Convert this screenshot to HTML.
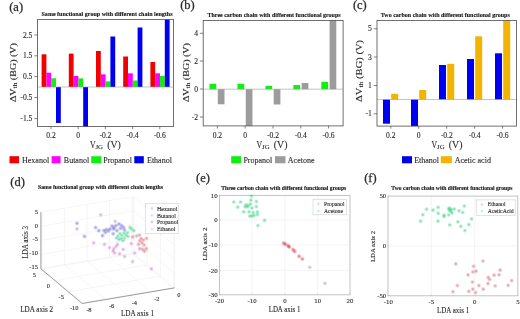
<!DOCTYPE html>
<html><head><meta charset="utf-8"><title>Figure</title>
<style>html,body{margin:0;padding:0;background:#fff;overflow:hidden;}svg{display:block;filter:blur(0.4px);}text{stroke:#2a2a2a;stroke-width:0.12px;}.pl{stroke-width:0.25px;}</style></head>
<body><svg width="520" height="319" viewBox="0 0 520 319" font-family="'Liberation Serif','Times New Roman',serif">
<rect width="520" height="319" fill="#fff"/>
<text x="9.20" y="10.90" font-size="12.5" text-anchor="start" fill="#2a2a2a" class="pl">(a)</text>
<text x="41.50" y="15.60" font-size="6" text-anchor="start" font-weight="bold" textLength="131.0" lengthAdjust="spacingAndGlyphs" fill="#111">Same functional group with different chain lengths</text>
<rect x="41.60" y="54.30" width="4.80" height="32.70" fill="#f20000"/>
<rect x="46.40" y="72.70" width="4.80" height="14.30" fill="#ff00ff"/>
<rect x="51.20" y="78.30" width="4.80" height="8.70" fill="#10f010"/>
<rect x="56.00" y="87.00" width="4.80" height="36.00" fill="#0000f0"/>
<rect x="68.80" y="53.60" width="4.80" height="33.40" fill="#f20000"/>
<rect x="73.60" y="76.00" width="4.80" height="11.00" fill="#ff00ff"/>
<rect x="78.40" y="78.40" width="4.80" height="8.60" fill="#10f010"/>
<rect x="83.20" y="87.00" width="4.80" height="39.60" fill="#0000f0"/>
<rect x="96.00" y="51.00" width="4.80" height="36.00" fill="#f20000"/>
<rect x="100.80" y="74.30" width="4.80" height="12.70" fill="#ff00ff"/>
<rect x="105.60" y="81.30" width="4.80" height="5.70" fill="#10f010"/>
<rect x="110.40" y="36.50" width="4.80" height="50.50" fill="#0000f0"/>
<rect x="123.20" y="56.50" width="4.80" height="30.50" fill="#f20000"/>
<rect x="128.00" y="73.30" width="4.80" height="13.70" fill="#ff00ff"/>
<rect x="132.80" y="80.50" width="4.80" height="6.50" fill="#10f010"/>
<rect x="137.60" y="27.50" width="4.80" height="59.50" fill="#0000f0"/>
<rect x="150.40" y="62.00" width="4.80" height="25.00" fill="#f20000"/>
<rect x="155.20" y="73.30" width="4.80" height="13.70" fill="#ff00ff"/>
<rect x="160.00" y="75.80" width="4.80" height="11.20" fill="#10f010"/>
<rect x="164.80" y="19.60" width="4.80" height="67.40" fill="#0000f0"/>
<line x1="37.60" y1="87.00" x2="173.40" y2="87.00" stroke="#9a9a9a" stroke-width="0.6"/>
<rect x="37.60" y="19.40" width="135.80" height="107.20" fill="none" stroke="#4d4d4d" stroke-width="0.8"/>
<line x1="34.30" y1="35.00" x2="37.60" y2="35.00" stroke="#4d4d4d" stroke-width="0.7"/>
<text x="32.40" y="37.60" font-size="7.6" text-anchor="end" fill="#2a2a2a">2.5</text>
<line x1="34.30" y1="55.80" x2="37.60" y2="55.80" stroke="#4d4d4d" stroke-width="0.7"/>
<text x="32.40" y="58.40" font-size="7.6" text-anchor="end" fill="#2a2a2a">1.5</text>
<line x1="34.30" y1="76.60" x2="37.60" y2="76.60" stroke="#4d4d4d" stroke-width="0.7"/>
<text x="32.40" y="79.20" font-size="7.6" text-anchor="end" fill="#2a2a2a">0.5</text>
<line x1="34.30" y1="97.50" x2="37.60" y2="97.50" stroke="#4d4d4d" stroke-width="0.7"/>
<text x="32.40" y="100.10" font-size="7.6" text-anchor="end" fill="#2a2a2a">-0.5</text>
<line x1="34.30" y1="118.60" x2="37.60" y2="118.60" stroke="#4d4d4d" stroke-width="0.7"/>
<text x="32.40" y="121.20" font-size="7.6" text-anchor="end" fill="#2a2a2a">-1.5</text>
<line x1="51.00" y1="126.60" x2="51.00" y2="129.20" stroke="#4d4d4d" stroke-width="0.7"/>
<text x="51.00" y="137.90" font-size="7.6" text-anchor="middle" fill="#2a2a2a">0.2</text>
<line x1="78.20" y1="126.60" x2="78.20" y2="129.20" stroke="#4d4d4d" stroke-width="0.7"/>
<text x="78.20" y="137.90" font-size="7.6" text-anchor="middle" fill="#2a2a2a">0</text>
<line x1="105.40" y1="126.60" x2="105.40" y2="129.20" stroke="#4d4d4d" stroke-width="0.7"/>
<text x="105.40" y="137.90" font-size="7.6" text-anchor="middle" fill="#2a2a2a">-0.2</text>
<line x1="132.60" y1="126.60" x2="132.60" y2="129.20" stroke="#4d4d4d" stroke-width="0.7"/>
<text x="132.60" y="137.90" font-size="7.6" text-anchor="middle" fill="#2a2a2a">-0.4</text>
<line x1="159.80" y1="126.60" x2="159.80" y2="129.20" stroke="#4d4d4d" stroke-width="0.7"/>
<text x="159.80" y="137.90" font-size="7.6" text-anchor="middle" fill="#2a2a2a">-0.6</text>
<text x="90.00" y="148.1" font-size="9.6" fill="#2a2a2a" textLength="5.6" lengthAdjust="spacingAndGlyphs">V</text>
<text x="95.40" y="149.3" font-size="6.2" fill="#2a2a2a" textLength="7.6" lengthAdjust="spacingAndGlyphs">JG</text>
<text x="107.20" y="148.1" font-size="9.6" fill="#2a2a2a" textLength="13.6" lengthAdjust="spacingAndGlyphs">(V)</text>
<text transform="translate(16.00,72.60) rotate(-90)" x="0" y="0" font-size="8.4" text-anchor="middle" fill="#2a2a2a" textLength="59" lengthAdjust="spacingAndGlyphs">ΔV<tspan font-size="6.2" dy="1.3">th</tspan><tspan dy="-1.3"> (BG) (V)</tspan></text>
<rect x="9.50" y="156.20" width="9.50" height="7.10" fill="#f20000"/>
<text x="22.00" y="162.70" font-size="8" text-anchor="start" fill="#2a2a2a">Hexanol</text>
<rect x="51.60" y="156.20" width="9.00" height="7.10" fill="#ff00ff"/>
<text x="63.80" y="162.70" font-size="8" text-anchor="start" fill="#2a2a2a">Butanol</text>
<rect x="91.20" y="156.20" width="10.00" height="7.10" fill="#10f010"/>
<text x="103.20" y="162.70" font-size="8" text-anchor="start" fill="#2a2a2a">Propanol</text>
<rect x="134.30" y="156.20" width="9.50" height="7.10" fill="#0000f0"/>
<text x="147.00" y="162.70" font-size="8" text-anchor="start" fill="#2a2a2a">Ethanol</text>
<text x="180.20" y="8.80" font-size="12.5" text-anchor="start" fill="#2a2a2a" class="pl">(b)</text>
<text x="207.50" y="17.00" font-size="6" text-anchor="start" font-weight="bold" textLength="133.10000000000002" lengthAdjust="spacingAndGlyphs" fill="#111">Three carbon chain with different functional groups</text>
<rect x="209.50" y="83.80" width="6.80" height="5.40" fill="#10f010"/>
<rect x="217.80" y="89.20" width="6.70" height="15.10" fill="#9c9c9c"/>
<rect x="237.45" y="83.80" width="6.80" height="5.40" fill="#10f010"/>
<rect x="245.75" y="89.20" width="6.70" height="36.70" fill="#9c9c9c"/>
<rect x="265.40" y="85.80" width="6.80" height="3.40" fill="#10f010"/>
<rect x="273.70" y="89.20" width="6.70" height="15.30" fill="#9c9c9c"/>
<rect x="293.35" y="85.00" width="6.80" height="4.20" fill="#10f010"/>
<rect x="301.65" y="83.00" width="6.70" height="6.20" fill="#9c9c9c"/>
<rect x="321.30" y="81.80" width="6.80" height="7.40" fill="#10f010"/>
<rect x="329.60" y="20.50" width="6.70" height="68.70" fill="#9c9c9c"/>
<line x1="203.20" y1="89.20" x2="343.10" y2="89.20" stroke="#9a9a9a" stroke-width="0.6"/>
<rect x="203.20" y="20.50" width="139.90" height="105.40" fill="none" stroke="#4d4d4d" stroke-width="0.8"/>
<line x1="199.90" y1="33.30" x2="203.20" y2="33.30" stroke="#4d4d4d" stroke-width="0.7"/>
<text x="198.00" y="35.90" font-size="7.6" text-anchor="end" fill="#2a2a2a">4</text>
<line x1="199.90" y1="61.00" x2="203.20" y2="61.00" stroke="#4d4d4d" stroke-width="0.7"/>
<text x="198.00" y="63.60" font-size="7.6" text-anchor="end" fill="#2a2a2a">2</text>
<line x1="199.90" y1="89.00" x2="203.20" y2="89.00" stroke="#4d4d4d" stroke-width="0.7"/>
<text x="198.00" y="91.60" font-size="7.6" text-anchor="end" fill="#2a2a2a">0</text>
<line x1="199.90" y1="117.00" x2="203.20" y2="117.00" stroke="#4d4d4d" stroke-width="0.7"/>
<text x="198.00" y="119.60" font-size="7.6" text-anchor="end" fill="#2a2a2a">-2</text>
<line x1="217.40" y1="125.90" x2="217.40" y2="128.50" stroke="#4d4d4d" stroke-width="0.7"/>
<text x="217.40" y="137.90" font-size="7.6" text-anchor="middle" fill="#2a2a2a">0.2</text>
<line x1="245.20" y1="125.90" x2="245.20" y2="128.50" stroke="#4d4d4d" stroke-width="0.7"/>
<text x="245.20" y="137.90" font-size="7.6" text-anchor="middle" fill="#2a2a2a">0</text>
<line x1="273.00" y1="125.90" x2="273.00" y2="128.50" stroke="#4d4d4d" stroke-width="0.7"/>
<text x="273.00" y="137.90" font-size="7.6" text-anchor="middle" fill="#2a2a2a">-0.2</text>
<line x1="300.80" y1="125.90" x2="300.80" y2="128.50" stroke="#4d4d4d" stroke-width="0.7"/>
<text x="300.80" y="137.90" font-size="7.6" text-anchor="middle" fill="#2a2a2a">-0.4</text>
<line x1="328.60" y1="125.90" x2="328.60" y2="128.50" stroke="#4d4d4d" stroke-width="0.7"/>
<text x="328.60" y="137.90" font-size="7.6" text-anchor="middle" fill="#2a2a2a">-0.6</text>
<text x="256.60" y="148.1" font-size="9.6" fill="#2a2a2a" textLength="5.6" lengthAdjust="spacingAndGlyphs">V</text>
<text x="262.00" y="149.3" font-size="6.2" fill="#2a2a2a" textLength="7.6" lengthAdjust="spacingAndGlyphs">JG</text>
<text x="273.80" y="148.1" font-size="9.6" fill="#2a2a2a" textLength="13.6" lengthAdjust="spacingAndGlyphs">(V)</text>
<text transform="translate(189.00,72.60) rotate(-90)" x="0" y="0" font-size="8.4" text-anchor="middle" fill="#2a2a2a" textLength="59" lengthAdjust="spacingAndGlyphs">ΔV<tspan font-size="6.2" dy="1.3">th</tspan><tspan dy="-1.3"> (BG) (V)</tspan></text>
<rect x="231.20" y="156.20" width="9.90" height="7.10" fill="#10f010"/>
<text x="243.40" y="162.70" font-size="8" text-anchor="start" fill="#2a2a2a">Propanol</text>
<rect x="275.00" y="156.20" width="10.50" height="7.10" fill="#9c9c9c"/>
<text x="287.80" y="162.70" font-size="8" text-anchor="start" fill="#2a2a2a">Acetone</text>
<text x="352.90" y="9.10" font-size="12.5" text-anchor="start" fill="#2a2a2a" class="pl">(c)</text>
<text x="380.80" y="16.60" font-size="6" text-anchor="start" font-weight="bold" textLength="129.0" lengthAdjust="spacingAndGlyphs" fill="#111">Two carbon chain with different functional groups</text>
<rect x="383.00" y="99.50" width="7.00" height="24.20" fill="#0000f0"/>
<rect x="391.20" y="93.80" width="7.00" height="5.70" fill="#f3b400"/>
<rect x="411.00" y="99.50" width="7.00" height="26.60" fill="#0000f0"/>
<rect x="419.20" y="90.00" width="7.00" height="9.50" fill="#f3b400"/>
<rect x="439.00" y="65.00" width="7.00" height="34.50" fill="#0000f0"/>
<rect x="447.20" y="63.80" width="7.00" height="35.70" fill="#f3b400"/>
<rect x="467.00" y="59.00" width="7.00" height="40.50" fill="#0000f0"/>
<rect x="475.20" y="36.30" width="7.00" height="63.20" fill="#f3b400"/>
<rect x="495.00" y="53.30" width="7.00" height="46.20" fill="#0000f0"/>
<rect x="503.20" y="20.50" width="7.00" height="79.00" fill="#f3b400"/>
<line x1="377.00" y1="99.50" x2="516.40" y2="99.50" stroke="#9a9a9a" stroke-width="0.6"/>
<rect x="377.00" y="20.50" width="139.40" height="105.60" fill="none" stroke="#4d4d4d" stroke-width="0.8"/>
<line x1="373.70" y1="28.80" x2="377.00" y2="28.80" stroke="#4d4d4d" stroke-width="0.7"/>
<text x="371.80" y="31.40" font-size="7.6" text-anchor="end" fill="#2a2a2a">5</text>
<line x1="373.70" y1="57.00" x2="377.00" y2="57.00" stroke="#4d4d4d" stroke-width="0.7"/>
<text x="371.80" y="59.60" font-size="7.6" text-anchor="end" fill="#2a2a2a">3</text>
<line x1="373.70" y1="85.50" x2="377.00" y2="85.50" stroke="#4d4d4d" stroke-width="0.7"/>
<text x="371.80" y="88.10" font-size="7.6" text-anchor="end" fill="#2a2a2a">1</text>
<line x1="373.70" y1="113.80" x2="377.00" y2="113.80" stroke="#4d4d4d" stroke-width="0.7"/>
<text x="371.80" y="116.40" font-size="7.6" text-anchor="end" fill="#2a2a2a">-1</text>
<line x1="390.80" y1="126.10" x2="390.80" y2="128.70" stroke="#4d4d4d" stroke-width="0.7"/>
<text x="390.80" y="137.90" font-size="7.6" text-anchor="middle" fill="#2a2a2a">0.2</text>
<line x1="418.75" y1="126.10" x2="418.75" y2="128.70" stroke="#4d4d4d" stroke-width="0.7"/>
<text x="418.75" y="137.90" font-size="7.6" text-anchor="middle" fill="#2a2a2a">0</text>
<line x1="446.70" y1="126.10" x2="446.70" y2="128.70" stroke="#4d4d4d" stroke-width="0.7"/>
<text x="446.70" y="137.90" font-size="7.6" text-anchor="middle" fill="#2a2a2a">-0.2</text>
<line x1="474.65" y1="126.10" x2="474.65" y2="128.70" stroke="#4d4d4d" stroke-width="0.7"/>
<text x="474.65" y="137.90" font-size="7.6" text-anchor="middle" fill="#2a2a2a">-0.4</text>
<line x1="502.60" y1="126.10" x2="502.60" y2="128.70" stroke="#4d4d4d" stroke-width="0.7"/>
<text x="502.60" y="137.90" font-size="7.6" text-anchor="middle" fill="#2a2a2a">-0.6</text>
<text x="431.60" y="148.1" font-size="9.6" fill="#2a2a2a" textLength="5.6" lengthAdjust="spacingAndGlyphs">V</text>
<text x="437.00" y="149.3" font-size="6.2" fill="#2a2a2a" textLength="7.6" lengthAdjust="spacingAndGlyphs">JG</text>
<text x="448.80" y="148.1" font-size="9.6" fill="#2a2a2a" textLength="13.6" lengthAdjust="spacingAndGlyphs">(V)</text>
<text transform="translate(361.50,71.00) rotate(-90)" x="0" y="0" font-size="8.4" text-anchor="middle" fill="#2a2a2a" textLength="62" lengthAdjust="spacingAndGlyphs">ΔV<tspan font-size="6.2" dy="1.3">th</tspan><tspan dy="-1.3"> (BG) (V)</tspan></text>
<rect x="402.00" y="156.20" width="10.00" height="7.10" fill="#0000f0"/>
<text x="414.20" y="162.70" font-size="8" text-anchor="start" fill="#2a2a2a">Ethanol</text>
<rect x="440.80" y="156.20" width="11.10" height="7.10" fill="#f3b400"/>
<text x="454.70" y="162.70" font-size="8" text-anchor="start" fill="#2a2a2a">Acetic acid</text>
<text x="10.30" y="185.50" font-size="12.5" text-anchor="start" fill="#2a2a2a" class="pl">(d)</text>
<text x="38.00" y="189.30" font-size="5.8" text-anchor="start" font-weight="bold" textLength="125" lengthAdjust="spacingAndGlyphs" fill="#111">Same functional group with different chain lengths</text>
<line x1="83.58" y1="303.27" x2="42.28" y2="268.57" stroke="#ececec" stroke-width="0.5"/>
<line x1="42.28" y1="268.57" x2="42.28" y2="211.97" stroke="#ececec" stroke-width="0.5"/>
<line x1="105.97" y1="299.48" x2="64.67" y2="264.78" stroke="#ececec" stroke-width="0.5"/>
<line x1="64.67" y1="264.78" x2="64.67" y2="208.18" stroke="#ececec" stroke-width="0.5"/>
<line x1="128.35" y1="295.70" x2="87.05" y2="261.00" stroke="#ececec" stroke-width="0.5"/>
<line x1="87.05" y1="261.00" x2="87.05" y2="204.40" stroke="#ececec" stroke-width="0.5"/>
<line x1="150.73" y1="291.92" x2="109.43" y2="257.22" stroke="#ececec" stroke-width="0.5"/>
<line x1="109.43" y1="257.22" x2="109.43" y2="200.62" stroke="#ececec" stroke-width="0.5"/>
<line x1="173.12" y1="288.13" x2="131.82" y2="253.43" stroke="#ececec" stroke-width="0.5"/>
<line x1="131.82" y1="253.43" x2="131.82" y2="196.83" stroke="#ececec" stroke-width="0.5"/>
<line x1="41.52" y1="269.32" x2="133.82" y2="253.72" stroke="#ececec" stroke-width="0.5"/>
<line x1="133.82" y1="253.72" x2="133.82" y2="197.12" stroke="#ececec" stroke-width="0.5"/>
<line x1="54.87" y1="280.54" x2="147.17" y2="264.94" stroke="#ececec" stroke-width="0.5"/>
<line x1="147.17" y1="264.94" x2="147.17" y2="208.34" stroke="#ececec" stroke-width="0.5"/>
<line x1="68.22" y1="291.76" x2="160.52" y2="276.16" stroke="#ececec" stroke-width="0.5"/>
<line x1="160.52" y1="276.16" x2="160.52" y2="219.56" stroke="#ececec" stroke-width="0.5"/>
<line x1="81.58" y1="302.98" x2="173.88" y2="287.38" stroke="#ececec" stroke-width="0.5"/>
<line x1="173.88" y1="287.38" x2="173.88" y2="230.78" stroke="#ececec" stroke-width="0.5"/>
<line x1="40.90" y1="212.20" x2="133.20" y2="196.60" stroke="#ececec" stroke-width="0.5"/>
<line x1="133.20" y1="196.60" x2="174.50" y2="231.30" stroke="#ececec" stroke-width="0.5"/>
<line x1="40.90" y1="226.30" x2="133.20" y2="210.70" stroke="#ececec" stroke-width="0.5"/>
<line x1="133.20" y1="210.70" x2="174.50" y2="245.40" stroke="#ececec" stroke-width="0.5"/>
<line x1="40.90" y1="240.40" x2="133.20" y2="224.80" stroke="#ececec" stroke-width="0.5"/>
<line x1="133.20" y1="224.80" x2="174.50" y2="259.50" stroke="#ececec" stroke-width="0.5"/>
<line x1="40.90" y1="254.50" x2="133.20" y2="238.90" stroke="#ececec" stroke-width="0.5"/>
<line x1="133.20" y1="238.90" x2="174.50" y2="273.60" stroke="#ececec" stroke-width="0.5"/>
<line x1="40.90" y1="268.60" x2="133.20" y2="253.00" stroke="#ececec" stroke-width="0.5"/>
<line x1="133.20" y1="253.00" x2="174.50" y2="287.70" stroke="#ececec" stroke-width="0.5"/>
<line x1="133.20" y1="253.20" x2="133.20" y2="196.60" stroke="#ececec" stroke-width="0.5"/>
<line x1="174.50" y1="287.90" x2="174.50" y2="231.30" stroke="#ececec" stroke-width="0.5"/>
<line x1="40.90" y1="212.20" x2="40.90" y2="268.80" stroke="#555" stroke-width="0.6"/>
<line x1="40.90" y1="268.80" x2="82.20" y2="303.50" stroke="#555" stroke-width="0.6"/>
<line x1="82.20" y1="303.50" x2="174.50" y2="287.90" stroke="#555" stroke-width="0.6"/>
<text x="37.90" y="213.70" font-size="6.4" text-anchor="end" fill="#2a2a2a">5</text>
<text x="37.90" y="227.50" font-size="6.4" text-anchor="end" fill="#2a2a2a">0</text>
<text x="37.90" y="241.30" font-size="6.4" text-anchor="end" fill="#2a2a2a">-5</text>
<text x="37.90" y="255.10" font-size="6.4" text-anchor="end" fill="#2a2a2a">-10</text>
<text x="37.90" y="269.30" font-size="6.4" text-anchor="end" fill="#2a2a2a">-15</text>
<text x="34.40" y="276.90" font-size="6.4" text-anchor="middle" fill="#2a2a2a">5</text>
<text x="48.30" y="288.00" font-size="6.4" text-anchor="middle" fill="#2a2a2a">0</text>
<text x="61.20" y="299.40" font-size="6.4" text-anchor="middle" fill="#2a2a2a">-5</text>
<text x="74.20" y="310.40" font-size="6.4" text-anchor="middle" fill="#2a2a2a">-10</text>
<text x="88.90" y="312.40" font-size="6.4" text-anchor="middle" fill="#2a2a2a">-8</text>
<text x="111.60" y="308.40" font-size="6.4" text-anchor="middle" fill="#2a2a2a">-6</text>
<text x="134.40" y="304.70" font-size="6.4" text-anchor="middle" fill="#2a2a2a">-4</text>
<text x="156.90" y="300.90" font-size="6.4" text-anchor="middle" fill="#2a2a2a">-2</text>
<text x="178.90" y="297.20" font-size="6.4" text-anchor="middle" fill="#2a2a2a">0</text>
<text x="20.20" y="311.90" font-size="7.6" text-anchor="start" textLength="32.9" lengthAdjust="spacingAndGlyphs" fill="#2a2a2a">LDA axis 2</text>
<text x="121.00" y="316.20" font-size="7.6" text-anchor="start" textLength="33.0" lengthAdjust="spacingAndGlyphs" fill="#2a2a2a">LDA axis 1</text>
<text transform="translate(27.6,242.3) rotate(-90)" font-size="7.4" text-anchor="middle" fill="#2a2a2a" textLength="33" lengthAdjust="spacingAndGlyphs">LDA axis 3</text>
<circle cx="77.0" cy="223.3" r="2.1" fill="#7070f0" fill-opacity="0.3"/>
<circle cx="77.0" cy="223.3" r="1.1" fill="#505090" fill-opacity="0.3"/>
<circle cx="84.5" cy="236.4" r="2.1" fill="#7070f0" fill-opacity="0.3"/>
<circle cx="84.5" cy="236.4" r="1.1" fill="#505090" fill-opacity="0.3"/>
<circle cx="95.6" cy="227.5" r="2.1" fill="#7070f0" fill-opacity="0.3"/>
<circle cx="95.6" cy="227.5" r="1.1" fill="#505090" fill-opacity="0.3"/>
<circle cx="98.8" cy="230.7" r="2.1" fill="#7070f0" fill-opacity="0.3"/>
<circle cx="98.8" cy="230.7" r="1.1" fill="#505090" fill-opacity="0.3"/>
<circle cx="104.0" cy="230.5" r="2.1" fill="#7070f0" fill-opacity="0.3"/>
<circle cx="104.0" cy="230.5" r="1.1" fill="#505090" fill-opacity="0.3"/>
<circle cx="106.5" cy="229.5" r="2.1" fill="#7070f0" fill-opacity="0.3"/>
<circle cx="106.5" cy="229.5" r="1.1" fill="#505090" fill-opacity="0.3"/>
<circle cx="108.5" cy="231.0" r="2.1" fill="#7070f0" fill-opacity="0.3"/>
<circle cx="108.5" cy="231.0" r="1.1" fill="#505090" fill-opacity="0.3"/>
<circle cx="110.0" cy="229.0" r="2.1" fill="#7070f0" fill-opacity="0.3"/>
<circle cx="110.0" cy="229.0" r="1.1" fill="#505090" fill-opacity="0.3"/>
<circle cx="105.5" cy="232.5" r="2.1" fill="#7070f0" fill-opacity="0.3"/>
<circle cx="105.5" cy="232.5" r="1.1" fill="#505090" fill-opacity="0.3"/>
<circle cx="112.0" cy="226.0" r="2.1" fill="#7070f0" fill-opacity="0.3"/>
<circle cx="112.0" cy="226.0" r="1.1" fill="#505090" fill-opacity="0.3"/>
<circle cx="114.0" cy="227.5" r="2.1" fill="#7070f0" fill-opacity="0.3"/>
<circle cx="114.0" cy="227.5" r="1.1" fill="#505090" fill-opacity="0.3"/>
<circle cx="116.0" cy="225.5" r="2.1" fill="#7070f0" fill-opacity="0.3"/>
<circle cx="116.0" cy="225.5" r="1.1" fill="#505090" fill-opacity="0.3"/>
<circle cx="113.5" cy="229.0" r="2.1" fill="#7070f0" fill-opacity="0.3"/>
<circle cx="113.5" cy="229.0" r="1.1" fill="#505090" fill-opacity="0.3"/>
<circle cx="119.0" cy="224.0" r="2.1" fill="#7070f0" fill-opacity="0.3"/>
<circle cx="119.0" cy="224.0" r="1.1" fill="#505090" fill-opacity="0.3"/>
<circle cx="121.5" cy="225.5" r="2.1" fill="#7070f0" fill-opacity="0.3"/>
<circle cx="121.5" cy="225.5" r="1.1" fill="#505090" fill-opacity="0.3"/>
<circle cx="123.5" cy="227.5" r="2.1" fill="#7070f0" fill-opacity="0.3"/>
<circle cx="123.5" cy="227.5" r="1.1" fill="#505090" fill-opacity="0.3"/>
<circle cx="120.5" cy="228.5" r="2.1" fill="#7070f0" fill-opacity="0.3"/>
<circle cx="120.5" cy="228.5" r="1.1" fill="#505090" fill-opacity="0.3"/>
<circle cx="124.5" cy="230.0" r="2.1" fill="#7070f0" fill-opacity="0.3"/>
<circle cx="124.5" cy="230.0" r="1.1" fill="#505090" fill-opacity="0.3"/>
<circle cx="116.9" cy="230.7" r="2.1" fill="#7070f0" fill-opacity="0.3"/>
<circle cx="116.9" cy="230.7" r="1.1" fill="#505090" fill-opacity="0.3"/>
<circle cx="113.2" cy="233.8" r="2.1" fill="#7070f0" fill-opacity="0.3"/>
<circle cx="113.2" cy="233.8" r="1.1" fill="#505090" fill-opacity="0.3"/>
<circle cx="102.5" cy="235.7" r="2.1" fill="#7070f0" fill-opacity="0.3"/>
<circle cx="102.5" cy="235.7" r="1.1" fill="#505090" fill-opacity="0.3"/>
<circle cx="100.7" cy="214.8" r="2.1" fill="#b4b4ba" fill-opacity="0.3"/>
<circle cx="100.7" cy="214.8" r="1.1" fill="#78787e" fill-opacity="0.3"/>
<circle cx="115.1" cy="221.3" r="2.1" fill="#b4b4ba" fill-opacity="0.3"/>
<circle cx="115.1" cy="221.3" r="1.1" fill="#78787e" fill-opacity="0.3"/>
<circle cx="132.6" cy="261.7" r="2.1" fill="#b4b4ba" fill-opacity="0.3"/>
<circle cx="132.6" cy="261.7" r="1.1" fill="#78787e" fill-opacity="0.3"/>
<circle cx="124.7" cy="256.6" r="2.1" fill="#b4b4ba" fill-opacity="0.3"/>
<circle cx="124.7" cy="256.6" r="1.1" fill="#78787e" fill-opacity="0.3"/>
<circle cx="118.0" cy="236.0" r="2.1" fill="#40e890" fill-opacity="0.3"/>
<circle cx="118.0" cy="236.0" r="1.1" fill="#3a8a68" fill-opacity="0.3"/>
<circle cx="120.0" cy="233.5" r="2.1" fill="#40e890" fill-opacity="0.3"/>
<circle cx="120.0" cy="233.5" r="1.1" fill="#3a8a68" fill-opacity="0.3"/>
<circle cx="122.0" cy="235.5" r="2.1" fill="#40e890" fill-opacity="0.3"/>
<circle cx="122.0" cy="235.5" r="1.1" fill="#3a8a68" fill-opacity="0.3"/>
<circle cx="124.0" cy="233.0" r="2.1" fill="#40e890" fill-opacity="0.3"/>
<circle cx="124.0" cy="233.0" r="1.1" fill="#3a8a68" fill-opacity="0.3"/>
<circle cx="126.0" cy="235.0" r="2.1" fill="#40e890" fill-opacity="0.3"/>
<circle cx="126.0" cy="235.0" r="1.1" fill="#3a8a68" fill-opacity="0.3"/>
<circle cx="121.0" cy="238.5" r="2.1" fill="#40e890" fill-opacity="0.3"/>
<circle cx="121.0" cy="238.5" r="1.1" fill="#3a8a68" fill-opacity="0.3"/>
<circle cx="124.5" cy="238.0" r="2.1" fill="#40e890" fill-opacity="0.3"/>
<circle cx="124.5" cy="238.0" r="1.1" fill="#3a8a68" fill-opacity="0.3"/>
<circle cx="127.5" cy="232.5" r="2.1" fill="#40e890" fill-opacity="0.3"/>
<circle cx="127.5" cy="232.5" r="1.1" fill="#3a8a68" fill-opacity="0.3"/>
<circle cx="119.0" cy="239.5" r="2.1" fill="#40e890" fill-opacity="0.3"/>
<circle cx="119.0" cy="239.5" r="1.1" fill="#3a8a68" fill-opacity="0.3"/>
<circle cx="123.0" cy="240.5" r="2.1" fill="#40e890" fill-opacity="0.3"/>
<circle cx="123.0" cy="240.5" r="1.1" fill="#3a8a68" fill-opacity="0.3"/>
<circle cx="128.0" cy="236.5" r="2.1" fill="#40e890" fill-opacity="0.3"/>
<circle cx="128.0" cy="236.5" r="1.1" fill="#3a8a68" fill-opacity="0.3"/>
<circle cx="116.5" cy="238.0" r="2.1" fill="#40e890" fill-opacity="0.3"/>
<circle cx="116.5" cy="238.0" r="1.1" fill="#3a8a68" fill-opacity="0.3"/>
<circle cx="130.0" cy="227.5" r="2.1" fill="#40e890" fill-opacity="0.3"/>
<circle cx="130.0" cy="227.5" r="1.1" fill="#3a8a68" fill-opacity="0.3"/>
<circle cx="133.8" cy="230.7" r="2.1" fill="#40e890" fill-opacity="0.3"/>
<circle cx="133.8" cy="230.7" r="1.1" fill="#3a8a68" fill-opacity="0.3"/>
<circle cx="131.5" cy="229.0" r="2.1" fill="#40e890" fill-opacity="0.3"/>
<circle cx="131.5" cy="229.0" r="1.1" fill="#3a8a68" fill-opacity="0.3"/>
<circle cx="132.6" cy="236.9" r="2.1" fill="#f07890" fill-opacity="0.3"/>
<circle cx="132.6" cy="236.9" r="1.1" fill="#8a4a5a" fill-opacity="0.3"/>
<circle cx="136.5" cy="236.0" r="2.1" fill="#f07890" fill-opacity="0.3"/>
<circle cx="136.5" cy="236.0" r="1.1" fill="#8a4a5a" fill-opacity="0.3"/>
<circle cx="139.5" cy="235.0" r="2.1" fill="#f07890" fill-opacity="0.3"/>
<circle cx="139.5" cy="235.0" r="1.1" fill="#8a4a5a" fill-opacity="0.3"/>
<circle cx="141.0" cy="238.5" r="2.1" fill="#f07890" fill-opacity="0.3"/>
<circle cx="141.0" cy="238.5" r="1.1" fill="#8a4a5a" fill-opacity="0.3"/>
<circle cx="143.5" cy="240.0" r="2.1" fill="#f07890" fill-opacity="0.3"/>
<circle cx="143.5" cy="240.0" r="1.1" fill="#8a4a5a" fill-opacity="0.3"/>
<circle cx="146.5" cy="238.5" r="2.1" fill="#f07890" fill-opacity="0.3"/>
<circle cx="146.5" cy="238.5" r="1.1" fill="#8a4a5a" fill-opacity="0.3"/>
<circle cx="139.8" cy="240.8" r="2.1" fill="#f07890" fill-opacity="0.3"/>
<circle cx="139.8" cy="240.8" r="1.1" fill="#8a4a5a" fill-opacity="0.3"/>
<circle cx="142.0" cy="242.9" r="2.1" fill="#f07890" fill-opacity="0.3"/>
<circle cx="142.0" cy="242.9" r="1.1" fill="#8a4a5a" fill-opacity="0.3"/>
<circle cx="138.4" cy="244.4" r="2.1" fill="#f07890" fill-opacity="0.3"/>
<circle cx="138.4" cy="244.4" r="1.1" fill="#8a4a5a" fill-opacity="0.3"/>
<circle cx="139.8" cy="248.7" r="2.1" fill="#f07890" fill-opacity="0.3"/>
<circle cx="139.8" cy="248.7" r="1.1" fill="#8a4a5a" fill-opacity="0.3"/>
<circle cx="142.7" cy="249.4" r="2.1" fill="#f07890" fill-opacity="0.3"/>
<circle cx="142.7" cy="249.4" r="1.1" fill="#8a4a5a" fill-opacity="0.3"/>
<circle cx="146.3" cy="248.7" r="2.1" fill="#f07890" fill-opacity="0.3"/>
<circle cx="146.3" cy="248.7" r="1.1" fill="#8a4a5a" fill-opacity="0.3"/>
<circle cx="144.2" cy="245.1" r="2.1" fill="#f07890" fill-opacity="0.3"/>
<circle cx="144.2" cy="245.1" r="1.1" fill="#8a4a5a" fill-opacity="0.3"/>
<circle cx="144.5" cy="251.3" r="2.1" fill="#f07890" fill-opacity="0.3"/>
<circle cx="144.5" cy="251.3" r="1.1" fill="#8a4a5a" fill-opacity="0.3"/>
<circle cx="77.0" cy="228.9" r="2.1" fill="#f08af0" fill-opacity="0.3"/>
<circle cx="77.0" cy="228.9" r="1.1" fill="#905a90" fill-opacity="0.3"/>
<circle cx="93.7" cy="242.9" r="2.1" fill="#f08af0" fill-opacity="0.3"/>
<circle cx="93.7" cy="242.9" r="1.1" fill="#905a90" fill-opacity="0.3"/>
<circle cx="104.5" cy="244.4" r="2.1" fill="#f08af0" fill-opacity="0.3"/>
<circle cx="104.5" cy="244.4" r="1.1" fill="#905a90" fill-opacity="0.3"/>
<circle cx="109.5" cy="247.7" r="2.1" fill="#f08af0" fill-opacity="0.3"/>
<circle cx="109.5" cy="247.7" r="1.1" fill="#905a90" fill-opacity="0.3"/>
<circle cx="113.9" cy="248.7" r="2.1" fill="#f08af0" fill-opacity="0.3"/>
<circle cx="113.9" cy="248.7" r="1.1" fill="#905a90" fill-opacity="0.3"/>
<circle cx="116.0" cy="246.5" r="2.1" fill="#f08af0" fill-opacity="0.3"/>
<circle cx="116.0" cy="246.5" r="1.1" fill="#905a90" fill-opacity="0.3"/>
<circle cx="117.5" cy="244.4" r="2.1" fill="#f08af0" fill-opacity="0.3"/>
<circle cx="117.5" cy="244.4" r="1.1" fill="#905a90" fill-opacity="0.3"/>
<circle cx="113.1" cy="250.9" r="2.1" fill="#f08af0" fill-opacity="0.3"/>
<circle cx="113.1" cy="250.9" r="1.1" fill="#905a90" fill-opacity="0.3"/>
<circle cx="114.6" cy="253.0" r="2.1" fill="#f08af0" fill-opacity="0.3"/>
<circle cx="114.6" cy="253.0" r="1.1" fill="#905a90" fill-opacity="0.3"/>
<circle cx="119.6" cy="253.8" r="2.1" fill="#f08af0" fill-opacity="0.3"/>
<circle cx="119.6" cy="253.8" r="1.1" fill="#905a90" fill-opacity="0.3"/>
<circle cx="123.2" cy="249.4" r="2.1" fill="#f08af0" fill-opacity="0.3"/>
<circle cx="123.2" cy="249.4" r="1.1" fill="#905a90" fill-opacity="0.3"/>
<circle cx="131.2" cy="243.7" r="2.1" fill="#f08af0" fill-opacity="0.3"/>
<circle cx="131.2" cy="243.7" r="1.1" fill="#905a90" fill-opacity="0.3"/>
<circle cx="134.8" cy="253.0" r="2.1" fill="#f08af0" fill-opacity="0.3"/>
<circle cx="134.8" cy="253.0" r="1.1" fill="#905a90" fill-opacity="0.3"/>
<circle cx="151.4" cy="268.9" r="2.1" fill="#f08af0" fill-opacity="0.3"/>
<circle cx="151.4" cy="268.9" r="1.1" fill="#905a90" fill-opacity="0.3"/>
<rect x="145.6" y="203.6" width="32.6" height="30.1" fill="#fff" stroke="#cfcfcf" stroke-width="0.6"/>
<circle cx="151.9" cy="208.5" r="1.4" fill="#f07890" fill-opacity="0.35"/>
<text x="157.00" y="210.70" font-size="6.6" text-anchor="start" textLength="20.3" lengthAdjust="spacingAndGlyphs" fill="#2a2a2a">Hexanol</text>
<circle cx="151.9" cy="215.3" r="1.4" fill="#40e890" fill-opacity="0.35"/>
<text x="157.00" y="217.50" font-size="6.6" text-anchor="start" textLength="18.9" lengthAdjust="spacingAndGlyphs" fill="#2a2a2a">Butanol</text>
<circle cx="151.9" cy="222.0" r="1.4" fill="#7070f0" fill-opacity="0.35"/>
<text x="157.00" y="224.20" font-size="6.6" text-anchor="start" textLength="21.2" lengthAdjust="spacingAndGlyphs" fill="#2a2a2a">Propanol</text>
<circle cx="151.9" cy="228.9" r="1.4" fill="#f08af0" fill-opacity="0.35"/>
<text x="157.00" y="231.10" font-size="6.6" text-anchor="start" textLength="18.4" lengthAdjust="spacingAndGlyphs" fill="#2a2a2a">Ethanol</text>
<text x="196.00" y="182.10" font-size="12.5" text-anchor="start" fill="#2a2a2a" class="pl">(e)</text>
<text x="221.30" y="189.60" font-size="5.8" text-anchor="start" font-weight="bold" textLength="125.0" lengthAdjust="spacingAndGlyphs" fill="#111">Three carbon chain with different functional groups</text>
<line x1="252.00" y1="195.40" x2="252.00" y2="294.80" stroke="#ececec" stroke-width="0.6"/>
<line x1="285.00" y1="195.40" x2="285.00" y2="294.80" stroke="#ececec" stroke-width="0.6"/>
<line x1="317.70" y1="195.40" x2="317.70" y2="294.80" stroke="#ececec" stroke-width="0.6"/>
<line x1="219.40" y1="220.00" x2="350.00" y2="220.00" stroke="#ececec" stroke-width="0.6"/>
<line x1="219.40" y1="245.00" x2="350.00" y2="245.00" stroke="#ececec" stroke-width="0.6"/>
<line x1="219.40" y1="270.30" x2="350.00" y2="270.30" stroke="#ececec" stroke-width="0.6"/>
<rect x="219.40" y="195.40" width="130.60" height="99.40" fill="none" stroke="#bcbcbc" stroke-width="0.9"/>
<line x1="219.50" y1="294.80" x2="219.50" y2="293.30" stroke="#bcbcbc" stroke-width="0.5"/>
<text x="219.50" y="303.20" font-size="6.8" text-anchor="middle" fill="#2a2a2a">-20</text>
<line x1="252.00" y1="294.80" x2="252.00" y2="293.30" stroke="#bcbcbc" stroke-width="0.5"/>
<text x="252.00" y="303.20" font-size="6.8" text-anchor="middle" fill="#2a2a2a">-10</text>
<line x1="285.00" y1="294.80" x2="285.00" y2="293.30" stroke="#bcbcbc" stroke-width="0.5"/>
<text x="285.00" y="303.20" font-size="6.8" text-anchor="middle" fill="#2a2a2a">0</text>
<line x1="317.70" y1="294.80" x2="317.70" y2="293.30" stroke="#bcbcbc" stroke-width="0.5"/>
<text x="317.70" y="303.20" font-size="6.8" text-anchor="middle" fill="#2a2a2a">10</text>
<line x1="350.00" y1="294.80" x2="350.00" y2="293.30" stroke="#bcbcbc" stroke-width="0.5"/>
<text x="350.00" y="303.20" font-size="6.8" text-anchor="middle" fill="#2a2a2a">20</text>
<line x1="219.40" y1="195.30" x2="220.90" y2="195.30" stroke="#bcbcbc" stroke-width="0.5"/>
<text x="217.60" y="197.60" font-size="6.8" text-anchor="end" fill="#2a2a2a">10</text>
<line x1="219.40" y1="220.00" x2="220.90" y2="220.00" stroke="#bcbcbc" stroke-width="0.5"/>
<text x="217.60" y="222.30" font-size="6.8" text-anchor="end" fill="#2a2a2a">0</text>
<line x1="219.40" y1="245.00" x2="220.90" y2="245.00" stroke="#bcbcbc" stroke-width="0.5"/>
<text x="217.60" y="247.30" font-size="6.8" text-anchor="end" fill="#2a2a2a">-10</text>
<line x1="219.40" y1="270.30" x2="220.90" y2="270.30" stroke="#bcbcbc" stroke-width="0.5"/>
<text x="217.60" y="272.60" font-size="6.8" text-anchor="end" fill="#2a2a2a">-20</text>
<line x1="219.40" y1="294.80" x2="220.90" y2="294.80" stroke="#bcbcbc" stroke-width="0.5"/>
<text x="217.60" y="297.10" font-size="6.8" text-anchor="end" fill="#2a2a2a">-30</text>
<text x="268.70" y="311.70" font-size="7.6" text-anchor="start" textLength="31.69999999999999" lengthAdjust="spacingAndGlyphs" fill="#2a2a2a">LDA axis 1</text>
<text transform="translate(207.00,244.00) rotate(-90)" font-size="7.0" text-anchor="middle" fill="#2a2a2a" textLength="33.0" lengthAdjust="spacingAndGlyphs">LDA axis 2</text>
<circle cx="233.8" cy="202.0" r="2.1" fill="#40e890" fill-opacity="0.3"/>
<circle cx="233.8" cy="202.0" r="1.1" fill="#3a8a68" fill-opacity="0.3"/>
<circle cx="240.5" cy="202.0" r="2.1" fill="#40e890" fill-opacity="0.3"/>
<circle cx="240.5" cy="202.0" r="1.1" fill="#3a8a68" fill-opacity="0.3"/>
<circle cx="237.7" cy="207.2" r="2.1" fill="#40e890" fill-opacity="0.3"/>
<circle cx="237.7" cy="207.2" r="1.1" fill="#3a8a68" fill-opacity="0.3"/>
<circle cx="251.4" cy="196.0" r="2.1" fill="#40e890" fill-opacity="0.3"/>
<circle cx="251.4" cy="196.0" r="1.1" fill="#3a8a68" fill-opacity="0.3"/>
<circle cx="250.8" cy="200.2" r="2.1" fill="#40e890" fill-opacity="0.3"/>
<circle cx="250.8" cy="200.2" r="1.1" fill="#3a8a68" fill-opacity="0.3"/>
<circle cx="256.4" cy="201.6" r="2.1" fill="#40e890" fill-opacity="0.3"/>
<circle cx="256.4" cy="201.6" r="1.1" fill="#3a8a68" fill-opacity="0.3"/>
<circle cx="246.1" cy="204.8" r="2.1" fill="#40e890" fill-opacity="0.3"/>
<circle cx="246.1" cy="204.8" r="1.1" fill="#3a8a68" fill-opacity="0.3"/>
<circle cx="248.2" cy="205.5" r="2.1" fill="#40e890" fill-opacity="0.3"/>
<circle cx="248.2" cy="205.5" r="1.1" fill="#3a8a68" fill-opacity="0.3"/>
<circle cx="250.4" cy="204.1" r="2.1" fill="#40e890" fill-opacity="0.3"/>
<circle cx="250.4" cy="204.1" r="1.1" fill="#3a8a68" fill-opacity="0.3"/>
<circle cx="245.1" cy="206.7" r="2.1" fill="#40e890" fill-opacity="0.3"/>
<circle cx="245.1" cy="206.7" r="1.1" fill="#3a8a68" fill-opacity="0.3"/>
<circle cx="256.4" cy="206.7" r="2.1" fill="#40e890" fill-opacity="0.3"/>
<circle cx="256.4" cy="206.7" r="1.1" fill="#3a8a68" fill-opacity="0.3"/>
<circle cx="243.7" cy="211.9" r="2.1" fill="#40e890" fill-opacity="0.3"/>
<circle cx="243.7" cy="211.9" r="1.1" fill="#3a8a68" fill-opacity="0.3"/>
<circle cx="249.0" cy="211.9" r="2.1" fill="#40e890" fill-opacity="0.3"/>
<circle cx="249.0" cy="211.9" r="1.1" fill="#3a8a68" fill-opacity="0.3"/>
<circle cx="253.2" cy="212.6" r="2.1" fill="#40e890" fill-opacity="0.3"/>
<circle cx="253.2" cy="212.6" r="1.1" fill="#3a8a68" fill-opacity="0.3"/>
<circle cx="257.4" cy="211.9" r="2.1" fill="#40e890" fill-opacity="0.3"/>
<circle cx="257.4" cy="211.9" r="1.1" fill="#3a8a68" fill-opacity="0.3"/>
<circle cx="249.7" cy="216.1" r="2.1" fill="#40e890" fill-opacity="0.3"/>
<circle cx="249.7" cy="216.1" r="1.1" fill="#3a8a68" fill-opacity="0.3"/>
<circle cx="251.8" cy="216.1" r="2.1" fill="#40e890" fill-opacity="0.3"/>
<circle cx="251.8" cy="216.1" r="1.1" fill="#3a8a68" fill-opacity="0.3"/>
<circle cx="253.9" cy="215.4" r="2.1" fill="#40e890" fill-opacity="0.3"/>
<circle cx="253.9" cy="215.4" r="1.1" fill="#3a8a68" fill-opacity="0.3"/>
<circle cx="257.4" cy="214.7" r="2.1" fill="#40e890" fill-opacity="0.3"/>
<circle cx="257.4" cy="214.7" r="1.1" fill="#3a8a68" fill-opacity="0.3"/>
<circle cx="264.5" cy="220.4" r="2.1" fill="#40e890" fill-opacity="0.3"/>
<circle cx="264.5" cy="220.4" r="1.1" fill="#3a8a68" fill-opacity="0.3"/>
<circle cx="257.9" cy="225.6" r="2.1" fill="#40e890" fill-opacity="0.3"/>
<circle cx="257.9" cy="225.6" r="1.1" fill="#3a8a68" fill-opacity="0.3"/>
<circle cx="247.5" cy="207.0" r="2.1" fill="#40e890" fill-opacity="0.3"/>
<circle cx="247.5" cy="207.0" r="1.1" fill="#3a8a68" fill-opacity="0.3"/>
<circle cx="252.0" cy="208.0" r="2.1" fill="#40e890" fill-opacity="0.3"/>
<circle cx="252.0" cy="208.0" r="1.1" fill="#3a8a68" fill-opacity="0.3"/>
<circle cx="283.8" cy="243.2" r="2.1" fill="#ee2040" fill-opacity="0.3"/>
<circle cx="283.8" cy="243.2" r="1.1" fill="#b01830" fill-opacity="0.3"/>
<circle cx="285.4" cy="244.3" r="2.1" fill="#ee2040" fill-opacity="0.3"/>
<circle cx="285.4" cy="244.3" r="1.1" fill="#b01830" fill-opacity="0.3"/>
<circle cx="288.2" cy="245.9" r="2.1" fill="#ee2040" fill-opacity="0.3"/>
<circle cx="288.2" cy="245.9" r="1.1" fill="#b01830" fill-opacity="0.3"/>
<circle cx="289.3" cy="247.0" r="2.1" fill="#ee2040" fill-opacity="0.3"/>
<circle cx="289.3" cy="247.0" r="1.1" fill="#b01830" fill-opacity="0.3"/>
<circle cx="293.1" cy="249.7" r="2.1" fill="#ee2040" fill-opacity="0.3"/>
<circle cx="293.1" cy="249.7" r="1.1" fill="#b01830" fill-opacity="0.3"/>
<circle cx="294.7" cy="251.4" r="2.1" fill="#ee2040" fill-opacity="0.3"/>
<circle cx="294.7" cy="251.4" r="1.1" fill="#b01830" fill-opacity="0.3"/>
<circle cx="299.1" cy="256.3" r="2.1" fill="#ee2040" fill-opacity="0.3"/>
<circle cx="299.1" cy="256.3" r="1.1" fill="#b01830" fill-opacity="0.3"/>
<circle cx="302.4" cy="259.0" r="2.1" fill="#ee2040" fill-opacity="0.3"/>
<circle cx="302.4" cy="259.0" r="1.1" fill="#b01830" fill-opacity="0.3"/>
<circle cx="309.7" cy="267.3" r="2.1" fill="#b4b4ba" fill-opacity="0.3"/>
<circle cx="309.7" cy="267.3" r="1.1" fill="#78787e" fill-opacity="0.3"/>
<circle cx="325.0" cy="283.4" r="2.1" fill="#b4b4ba" fill-opacity="0.3"/>
<circle cx="325.0" cy="283.4" r="1.1" fill="#78787e" fill-opacity="0.3"/>
<rect x="313.0" y="199.4" width="33.60" height="15.40" fill="#fff" stroke="#cfcfcf" stroke-width="0.6"/>
<circle cx="318.4" cy="203.7" r="1.3" fill="#f07890" fill-opacity="0.35"/>
<text x="324.00" y="205.60" font-size="5.7" text-anchor="start" fill="#2a2a2a">Propanol</text>
<circle cx="318.4" cy="210.9" r="1.3" fill="#40e890" fill-opacity="0.35"/>
<text x="324.00" y="212.80" font-size="5.7" text-anchor="start" fill="#2a2a2a">Acetone</text>
<text x="364.20" y="181.80" font-size="12.5" text-anchor="start" fill="#2a2a2a" class="pl">(f)</text>
<text x="391.30" y="189.60" font-size="5.8" text-anchor="start" font-weight="bold" textLength="121.19999999999999" lengthAdjust="spacingAndGlyphs" fill="#111">Two carbon chain with different functional groups</text>
<line x1="431.30" y1="196.10" x2="431.30" y2="295.80" stroke="#ececec" stroke-width="0.6"/>
<line x1="474.70" y1="196.10" x2="474.70" y2="295.80" stroke="#ececec" stroke-width="0.6"/>
<line x1="388.00" y1="246.00" x2="517.80" y2="246.00" stroke="#ececec" stroke-width="0.6"/>
<rect x="388.00" y="196.10" width="129.80" height="99.70" fill="none" stroke="#bcbcbc" stroke-width="0.9"/>
<line x1="388.30" y1="295.80" x2="388.30" y2="294.30" stroke="#bcbcbc" stroke-width="0.5"/>
<text x="388.30" y="304.20" font-size="6.8" text-anchor="middle" fill="#2a2a2a">-10</text>
<line x1="431.30" y1="295.80" x2="431.30" y2="294.30" stroke="#bcbcbc" stroke-width="0.5"/>
<text x="431.30" y="304.20" font-size="6.8" text-anchor="middle" fill="#2a2a2a">-5</text>
<line x1="474.70" y1="295.80" x2="474.70" y2="294.30" stroke="#bcbcbc" stroke-width="0.5"/>
<text x="474.70" y="304.20" font-size="6.8" text-anchor="middle" fill="#2a2a2a">0</text>
<line x1="518.00" y1="295.80" x2="518.00" y2="294.30" stroke="#bcbcbc" stroke-width="0.5"/>
<text x="518.00" y="304.20" font-size="6.8" text-anchor="middle" fill="#2a2a2a">5</text>
<line x1="388.00" y1="195.80" x2="389.50" y2="195.80" stroke="#bcbcbc" stroke-width="0.5"/>
<text x="386.20" y="198.10" font-size="6.8" text-anchor="end" fill="#2a2a2a">50</text>
<line x1="388.00" y1="246.00" x2="389.50" y2="246.00" stroke="#bcbcbc" stroke-width="0.5"/>
<text x="386.20" y="248.30" font-size="6.8" text-anchor="end" fill="#2a2a2a">0</text>
<line x1="388.00" y1="295.80" x2="389.50" y2="295.80" stroke="#bcbcbc" stroke-width="0.5"/>
<text x="386.20" y="298.10" font-size="6.8" text-anchor="end" fill="#2a2a2a">-50</text>
<text x="437.00" y="312.70" font-size="7.6" text-anchor="start" textLength="32.19999999999999" lengthAdjust="spacingAndGlyphs" fill="#2a2a2a">LDA axis 1</text>
<text transform="translate(374.50,246.50) rotate(-90)" font-size="7.0" text-anchor="middle" fill="#2a2a2a" textLength="31.0" lengthAdjust="spacingAndGlyphs">LDA axis 2</text>
<circle cx="426.6" cy="209.3" r="2.1" fill="#40e890" fill-opacity="0.3"/>
<circle cx="426.6" cy="209.3" r="1.1" fill="#3a8a68" fill-opacity="0.3"/>
<circle cx="433.0" cy="210.2" r="2.1" fill="#40e890" fill-opacity="0.3"/>
<circle cx="433.0" cy="210.2" r="1.1" fill="#3a8a68" fill-opacity="0.3"/>
<circle cx="438.2" cy="207.3" r="2.1" fill="#40e890" fill-opacity="0.3"/>
<circle cx="438.2" cy="207.3" r="1.1" fill="#3a8a68" fill-opacity="0.3"/>
<circle cx="438.2" cy="213.3" r="2.1" fill="#40e890" fill-opacity="0.3"/>
<circle cx="438.2" cy="213.3" r="1.1" fill="#3a8a68" fill-opacity="0.3"/>
<circle cx="422.9" cy="214.8" r="2.1" fill="#40e890" fill-opacity="0.3"/>
<circle cx="422.9" cy="214.8" r="1.1" fill="#3a8a68" fill-opacity="0.3"/>
<circle cx="420.6" cy="221.2" r="2.1" fill="#40e890" fill-opacity="0.3"/>
<circle cx="420.6" cy="221.2" r="1.1" fill="#3a8a68" fill-opacity="0.3"/>
<circle cx="438.0" cy="221.2" r="2.1" fill="#40e890" fill-opacity="0.3"/>
<circle cx="438.0" cy="221.2" r="1.1" fill="#3a8a68" fill-opacity="0.3"/>
<circle cx="444.0" cy="215.2" r="2.1" fill="#40e890" fill-opacity="0.3"/>
<circle cx="444.0" cy="215.2" r="1.1" fill="#3a8a68" fill-opacity="0.3"/>
<circle cx="444.0" cy="216.6" r="2.1" fill="#40e890" fill-opacity="0.3"/>
<circle cx="444.0" cy="216.6" r="1.1" fill="#3a8a68" fill-opacity="0.3"/>
<circle cx="448.6" cy="209.0" r="2.1" fill="#40e890" fill-opacity="0.3"/>
<circle cx="448.6" cy="209.0" r="1.1" fill="#3a8a68" fill-opacity="0.3"/>
<circle cx="449.8" cy="210.2" r="2.1" fill="#40e890" fill-opacity="0.3"/>
<circle cx="449.8" cy="210.2" r="1.1" fill="#3a8a68" fill-opacity="0.3"/>
<circle cx="451.5" cy="209.6" r="2.1" fill="#40e890" fill-opacity="0.3"/>
<circle cx="451.5" cy="209.6" r="1.1" fill="#3a8a68" fill-opacity="0.3"/>
<circle cx="452.1" cy="213.1" r="2.1" fill="#40e890" fill-opacity="0.3"/>
<circle cx="452.1" cy="213.1" r="1.1" fill="#3a8a68" fill-opacity="0.3"/>
<circle cx="454.4" cy="209.0" r="2.1" fill="#40e890" fill-opacity="0.3"/>
<circle cx="454.4" cy="209.0" r="1.1" fill="#3a8a68" fill-opacity="0.3"/>
<circle cx="448.6" cy="214.8" r="2.1" fill="#40e890" fill-opacity="0.3"/>
<circle cx="448.6" cy="214.8" r="1.1" fill="#3a8a68" fill-opacity="0.3"/>
<circle cx="459.1" cy="210.8" r="2.1" fill="#40e890" fill-opacity="0.3"/>
<circle cx="459.1" cy="210.8" r="1.1" fill="#3a8a68" fill-opacity="0.3"/>
<circle cx="462.8" cy="212.5" r="2.1" fill="#40e890" fill-opacity="0.3"/>
<circle cx="462.8" cy="212.5" r="1.1" fill="#3a8a68" fill-opacity="0.3"/>
<circle cx="464.3" cy="206.1" r="2.1" fill="#40e890" fill-opacity="0.3"/>
<circle cx="464.3" cy="206.1" r="1.1" fill="#3a8a68" fill-opacity="0.3"/>
<circle cx="457.9" cy="221.8" r="2.1" fill="#40e890" fill-opacity="0.3"/>
<circle cx="457.9" cy="221.8" r="1.1" fill="#3a8a68" fill-opacity="0.3"/>
<circle cx="449.8" cy="224.9" r="2.1" fill="#40e890" fill-opacity="0.3"/>
<circle cx="449.8" cy="224.9" r="1.1" fill="#3a8a68" fill-opacity="0.3"/>
<circle cx="460.8" cy="226.4" r="2.1" fill="#40e890" fill-opacity="0.3"/>
<circle cx="460.8" cy="226.4" r="1.1" fill="#3a8a68" fill-opacity="0.3"/>
<circle cx="464.9" cy="230.5" r="2.1" fill="#40e890" fill-opacity="0.3"/>
<circle cx="464.9" cy="230.5" r="1.1" fill="#3a8a68" fill-opacity="0.3"/>
<circle cx="468.9" cy="224.7" r="2.1" fill="#40e890" fill-opacity="0.3"/>
<circle cx="468.9" cy="224.7" r="1.1" fill="#3a8a68" fill-opacity="0.3"/>
<circle cx="471.6" cy="218.9" r="2.1" fill="#40e890" fill-opacity="0.3"/>
<circle cx="471.6" cy="218.9" r="1.1" fill="#3a8a68" fill-opacity="0.3"/>
<circle cx="450.5" cy="211.5" r="2.1" fill="#40e890" fill-opacity="0.3"/>
<circle cx="450.5" cy="211.5" r="1.1" fill="#3a8a68" fill-opacity="0.3"/>
<circle cx="449.5" cy="208.0" r="2.1" fill="#40e890" fill-opacity="0.3"/>
<circle cx="449.5" cy="208.0" r="1.1" fill="#3a8a68" fill-opacity="0.3"/>
<circle cx="455.8" cy="263.9" r="2.1" fill="#f07890" fill-opacity="0.3"/>
<circle cx="455.8" cy="263.9" r="1.1" fill="#8a4a5a" fill-opacity="0.3"/>
<circle cx="483.0" cy="261.1" r="2.1" fill="#f07890" fill-opacity="0.3"/>
<circle cx="483.0" cy="261.1" r="1.1" fill="#8a4a5a" fill-opacity="0.3"/>
<circle cx="473.6" cy="266.3" r="2.1" fill="#f07890" fill-opacity="0.3"/>
<circle cx="473.6" cy="266.3" r="1.1" fill="#8a4a5a" fill-opacity="0.3"/>
<circle cx="472.8" cy="272.0" r="2.1" fill="#f07890" fill-opacity="0.3"/>
<circle cx="472.8" cy="272.0" r="1.1" fill="#8a4a5a" fill-opacity="0.3"/>
<circle cx="476.0" cy="271.2" r="2.1" fill="#f07890" fill-opacity="0.3"/>
<circle cx="476.0" cy="271.2" r="1.1" fill="#8a4a5a" fill-opacity="0.3"/>
<circle cx="468.1" cy="274.9" r="2.1" fill="#f07890" fill-opacity="0.3"/>
<circle cx="468.1" cy="274.9" r="1.1" fill="#8a4a5a" fill-opacity="0.3"/>
<circle cx="472.4" cy="282.0" r="2.1" fill="#f07890" fill-opacity="0.3"/>
<circle cx="472.4" cy="282.0" r="1.1" fill="#8a4a5a" fill-opacity="0.3"/>
<circle cx="457.3" cy="285.6" r="2.1" fill="#f07890" fill-opacity="0.3"/>
<circle cx="457.3" cy="285.6" r="1.1" fill="#8a4a5a" fill-opacity="0.3"/>
<circle cx="452.9" cy="291.8" r="2.1" fill="#f07890" fill-opacity="0.3"/>
<circle cx="452.9" cy="291.8" r="1.1" fill="#8a4a5a" fill-opacity="0.3"/>
<circle cx="468.8" cy="291.4" r="2.1" fill="#f07890" fill-opacity="0.3"/>
<circle cx="468.8" cy="291.4" r="1.1" fill="#8a4a5a" fill-opacity="0.3"/>
<circle cx="472.8" cy="289.2" r="2.1" fill="#f07890" fill-opacity="0.3"/>
<circle cx="472.8" cy="289.2" r="1.1" fill="#8a4a5a" fill-opacity="0.3"/>
<circle cx="475.6" cy="292.5" r="2.1" fill="#f07890" fill-opacity="0.3"/>
<circle cx="475.6" cy="292.5" r="1.1" fill="#8a4a5a" fill-opacity="0.3"/>
<circle cx="478.9" cy="285.6" r="2.1" fill="#f07890" fill-opacity="0.3"/>
<circle cx="478.9" cy="285.6" r="1.1" fill="#8a4a5a" fill-opacity="0.3"/>
<circle cx="483.2" cy="289.2" r="2.1" fill="#f07890" fill-opacity="0.3"/>
<circle cx="483.2" cy="289.2" r="1.1" fill="#8a4a5a" fill-opacity="0.3"/>
<circle cx="488.3" cy="277.4" r="2.1" fill="#f07890" fill-opacity="0.3"/>
<circle cx="488.3" cy="277.4" r="1.1" fill="#8a4a5a" fill-opacity="0.3"/>
<circle cx="489.7" cy="279.5" r="2.1" fill="#f07890" fill-opacity="0.3"/>
<circle cx="489.7" cy="279.5" r="1.1" fill="#8a4a5a" fill-opacity="0.3"/>
<circle cx="488.0" cy="283.6" r="2.1" fill="#f07890" fill-opacity="0.3"/>
<circle cx="488.0" cy="283.6" r="1.1" fill="#8a4a5a" fill-opacity="0.3"/>
<circle cx="494.1" cy="275.2" r="2.1" fill="#f07890" fill-opacity="0.3"/>
<circle cx="494.1" cy="275.2" r="1.1" fill="#8a4a5a" fill-opacity="0.3"/>
<circle cx="499.1" cy="274.8" r="2.1" fill="#f07890" fill-opacity="0.3"/>
<circle cx="499.1" cy="274.8" r="1.1" fill="#8a4a5a" fill-opacity="0.3"/>
<circle cx="500.1" cy="270.2" r="2.1" fill="#f07890" fill-opacity="0.3"/>
<circle cx="500.1" cy="270.2" r="1.1" fill="#8a4a5a" fill-opacity="0.3"/>
<circle cx="495.2" cy="286.0" r="2.1" fill="#f07890" fill-opacity="0.3"/>
<circle cx="495.2" cy="286.0" r="1.1" fill="#8a4a5a" fill-opacity="0.3"/>
<circle cx="508.2" cy="285.3" r="2.1" fill="#f07890" fill-opacity="0.3"/>
<circle cx="508.2" cy="285.3" r="1.1" fill="#8a4a5a" fill-opacity="0.3"/>
<circle cx="511.7" cy="280.7" r="2.1" fill="#f07890" fill-opacity="0.3"/>
<circle cx="511.7" cy="280.7" r="1.1" fill="#8a4a5a" fill-opacity="0.3"/>
<rect x="476.4" y="199.9" width="38.80" height="15.70" fill="#fff" stroke="#cfcfcf" stroke-width="0.6"/>
<circle cx="482.0" cy="204.5" r="1.3" fill="#f07890" fill-opacity="0.35"/>
<text x="487.80" y="206.40" font-size="5.7" text-anchor="start" fill="#2a2a2a">Ethanol</text>
<circle cx="482.0" cy="211.3" r="1.3" fill="#40e890" fill-opacity="0.35"/>
<text x="487.80" y="213.20" font-size="5.7" text-anchor="start" fill="#2a2a2a">AceticAcid</text>
</svg></body></html>
